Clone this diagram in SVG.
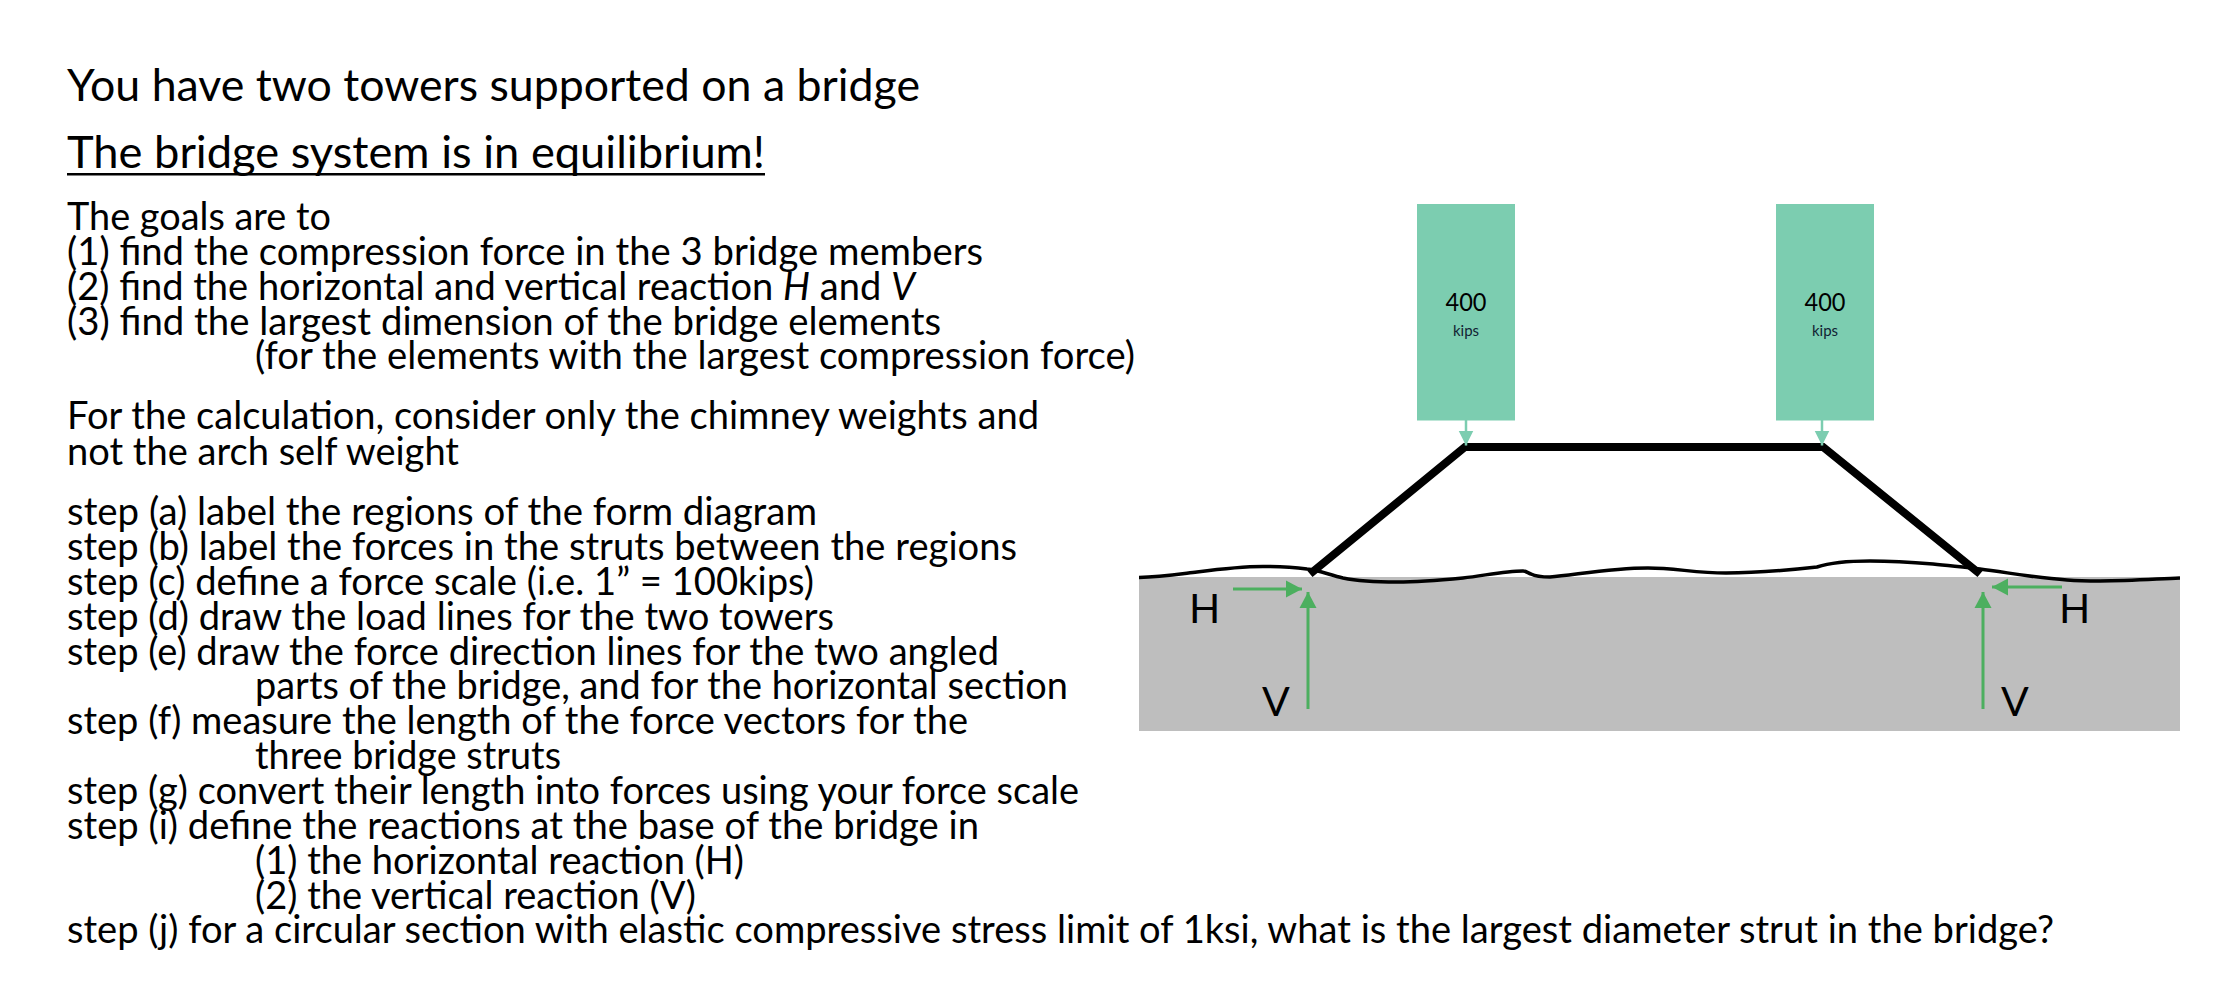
<svg xmlns="http://www.w3.org/2000/svg" width="2224" height="1004" viewBox="0 0 2224 1004">
<defs>
<marker id="ah-green" markerUnits="userSpaceOnUse" markerWidth="17" markerHeight="18" refX="16" refY="9" orient="auto"><path d="M0 0.500L16 9L0 17.500Z" fill="#4caf5f"/></marker>
<marker id="ah-teal" markerUnits="userSpaceOnUse" markerWidth="16" markerHeight="16" refX="15" refY="8" orient="auto"><path d="M0 0.500L15 8L0 15.500Z" fill="#7ccdb0"/></marker>
</defs>
<style>
text{font-family:"Lato","Open Sans","Liberation Sans",sans-serif;font-weight:400;fill:#000}
.h1{font-size:45px}
.b{font-size:38px}
.lab{font-size:41px}
.n{font-size:25px;text-anchor:middle}
.u{font-size:15px;text-anchor:middle;fill:#123}
.tower{fill:#7ccdb0}
.ground{fill:#bebebe}
.load{stroke:#7ccdb0;stroke-width:2.500;fill:none;marker-end:url(#ah-teal)}
.react{stroke:#4caf5f;stroke-width:3;fill:none;marker-end:url(#ah-green)}
</style>
<rect width="2224" height="1004" fill="#fff"/>
<g id="text">
<text class="h1" x="67" y="101" textLength="853" lengthAdjust="spacingAndGlyphs">You have two towers supported on a bridge</text>
<text class="h1" x="67" y="168" textLength="698" lengthAdjust="spacingAndGlyphs">The bridge system is in equilibrium!</text>
<rect x="67" y="173" width="698" height="2.500" fill="#000"/>
<text class="b" x="67" y="230" textLength="264" lengthAdjust="spacingAndGlyphs">The goals are to</text>
<text class="b" x="67" y="265" textLength="916" lengthAdjust="spacingAndGlyphs">(1) find the compression force in the 3 bridge members</text>
<text class="b" x="67" y="300" textLength="848" lengthAdjust="spacingAndGlyphs">(2) find the horizontal and vertical reaction <tspan font-style="italic">H</tspan> and <tspan font-style="italic">V</tspan></text>
<text class="b" x="67" y="335" textLength="874" lengthAdjust="spacingAndGlyphs">(3) find the largest dimension of the bridge elements</text>
<text class="b" x="255" y="369" textLength="880" lengthAdjust="spacingAndGlyphs">(for the elements with the largest compression force)</text>
<text class="b" x="67" y="429" textLength="972" lengthAdjust="spacingAndGlyphs">For the calculation, consider only the chimney weights and</text>
<text class="b" x="67" y="465" textLength="392" lengthAdjust="spacingAndGlyphs">not the arch self weight</text>
<text class="b" x="67" y="525" textLength="750" lengthAdjust="spacingAndGlyphs">step (a) label the regions of the form diagram</text>
<text class="b" x="67" y="560" textLength="950" lengthAdjust="spacingAndGlyphs">step (b) label the forces in the struts between the regions</text>
<text class="b" x="67" y="595" textLength="747" lengthAdjust="spacingAndGlyphs">step (c) define a force scale (i.e. 1” = 100kips)</text>
<text class="b" x="67" y="630" textLength="767" lengthAdjust="spacingAndGlyphs">step (d) draw the load lines for the two towers</text>
<text class="b" x="67" y="665" textLength="932" lengthAdjust="spacingAndGlyphs">step (e) draw the force direction lines for the two angled</text>
<text class="b" x="255" y="699" textLength="813" lengthAdjust="spacingAndGlyphs">parts of the bridge, and for the horizontal section</text>
<text class="b" x="67" y="734" textLength="901" lengthAdjust="spacingAndGlyphs">step (f) measure the length of the force vectors for the</text>
<text class="b" x="255" y="769" textLength="306" lengthAdjust="spacingAndGlyphs">three bridge struts</text>
<text class="b" x="67" y="804" textLength="1012" lengthAdjust="spacingAndGlyphs">step (g) convert their length into forces using your force scale</text>
<text class="b" x="67" y="839" textLength="912" lengthAdjust="spacingAndGlyphs">step (i) define the reactions at the base of the bridge in</text>
<text class="b" x="255" y="874" textLength="489" lengthAdjust="spacingAndGlyphs">(1) the horizontal reaction (H)</text>
<text class="b" x="255" y="909" textLength="441" lengthAdjust="spacingAndGlyphs">(2) the vertical reaction (V)</text>
<text class="b" x="67" y="943" textLength="1987" lengthAdjust="spacingAndGlyphs">step (j) for a circular section with elastic compressive stress limit of 1ksi, what is the largest diameter strut in the bridge?</text>
</g>
<g id="ground"><rect class="ground" x="1139" y="577" width="1041" height="154"/></g>
<g id="tower-left"><rect class="tower" x="1417" y="204" width="98" height="216.500"/><text class="n" x="1466" y="311" textLength="41" lengthAdjust="spacingAndGlyphs">400</text><text class="u" x="1466" y="336">kips</text></g>
<g id="tower-right"><rect class="tower" x="1776" y="204" width="98" height="216.500"/><text class="n" x="1825" y="311" textLength="41" lengthAdjust="spacingAndGlyphs">400</text><text class="u" x="1825" y="336">kips</text></g>
<g id="terrain"><path fill="none" stroke="#000" stroke-width="3.500" d="M1139 577.500C1160 577 1180 574 1197 572C1220 569 1245 566.500 1263 566.500C1280 566.500 1295 567.500 1307 569C1318 570 1330 575 1343 578C1360 581.500 1378 582 1397 582C1420 582 1442 580 1463 578C1485 575.500 1505 571 1523 571C1526 571 1528 573 1531 574C1537 577 1544 577 1550 577C1575 575 1610 568 1648 568C1675 568 1695 573 1726 573C1760 573 1790 570 1817 567C1832 562 1850 561 1870 561C1895 561 1915 562.500 1933 564C1950 566 1965 567 1980 569C2005 572 2035 578 2067 580C2080 581 2090 581 2100 581C2130 581 2155 579 2180 578"/></g>
<g id="bridge"><polyline fill="none" stroke="#000" stroke-width="8" stroke-linejoin="miter" points="1310,574 1465,447 1823,447 1980,574"/></g>
<g id="connectors">
<line class="load" x1="1466" y1="420" x2="1466" y2="445.500"/>
<line class="load" x1="1822" y1="420" x2="1822" y2="445.500"/>
<line class="react" x1="1233" y1="589" x2="1302" y2="589"/>
<line class="react" x1="1308" y1="709" x2="1308" y2="592"/>
<line class="react" x1="2062" y1="587" x2="1992" y2="587"/>
<line class="react" x1="1983" y1="709" x2="1983" y2="592"/>
</g>
<g id="reaction-labels">
<text class="lab" x="1189" y="623">H</text>
<text class="lab" x="1262" y="716">V</text>
<text class="lab" x="2059" y="623">H</text>
<text class="lab" x="2001" y="716">V</text>
</g>
</svg>
